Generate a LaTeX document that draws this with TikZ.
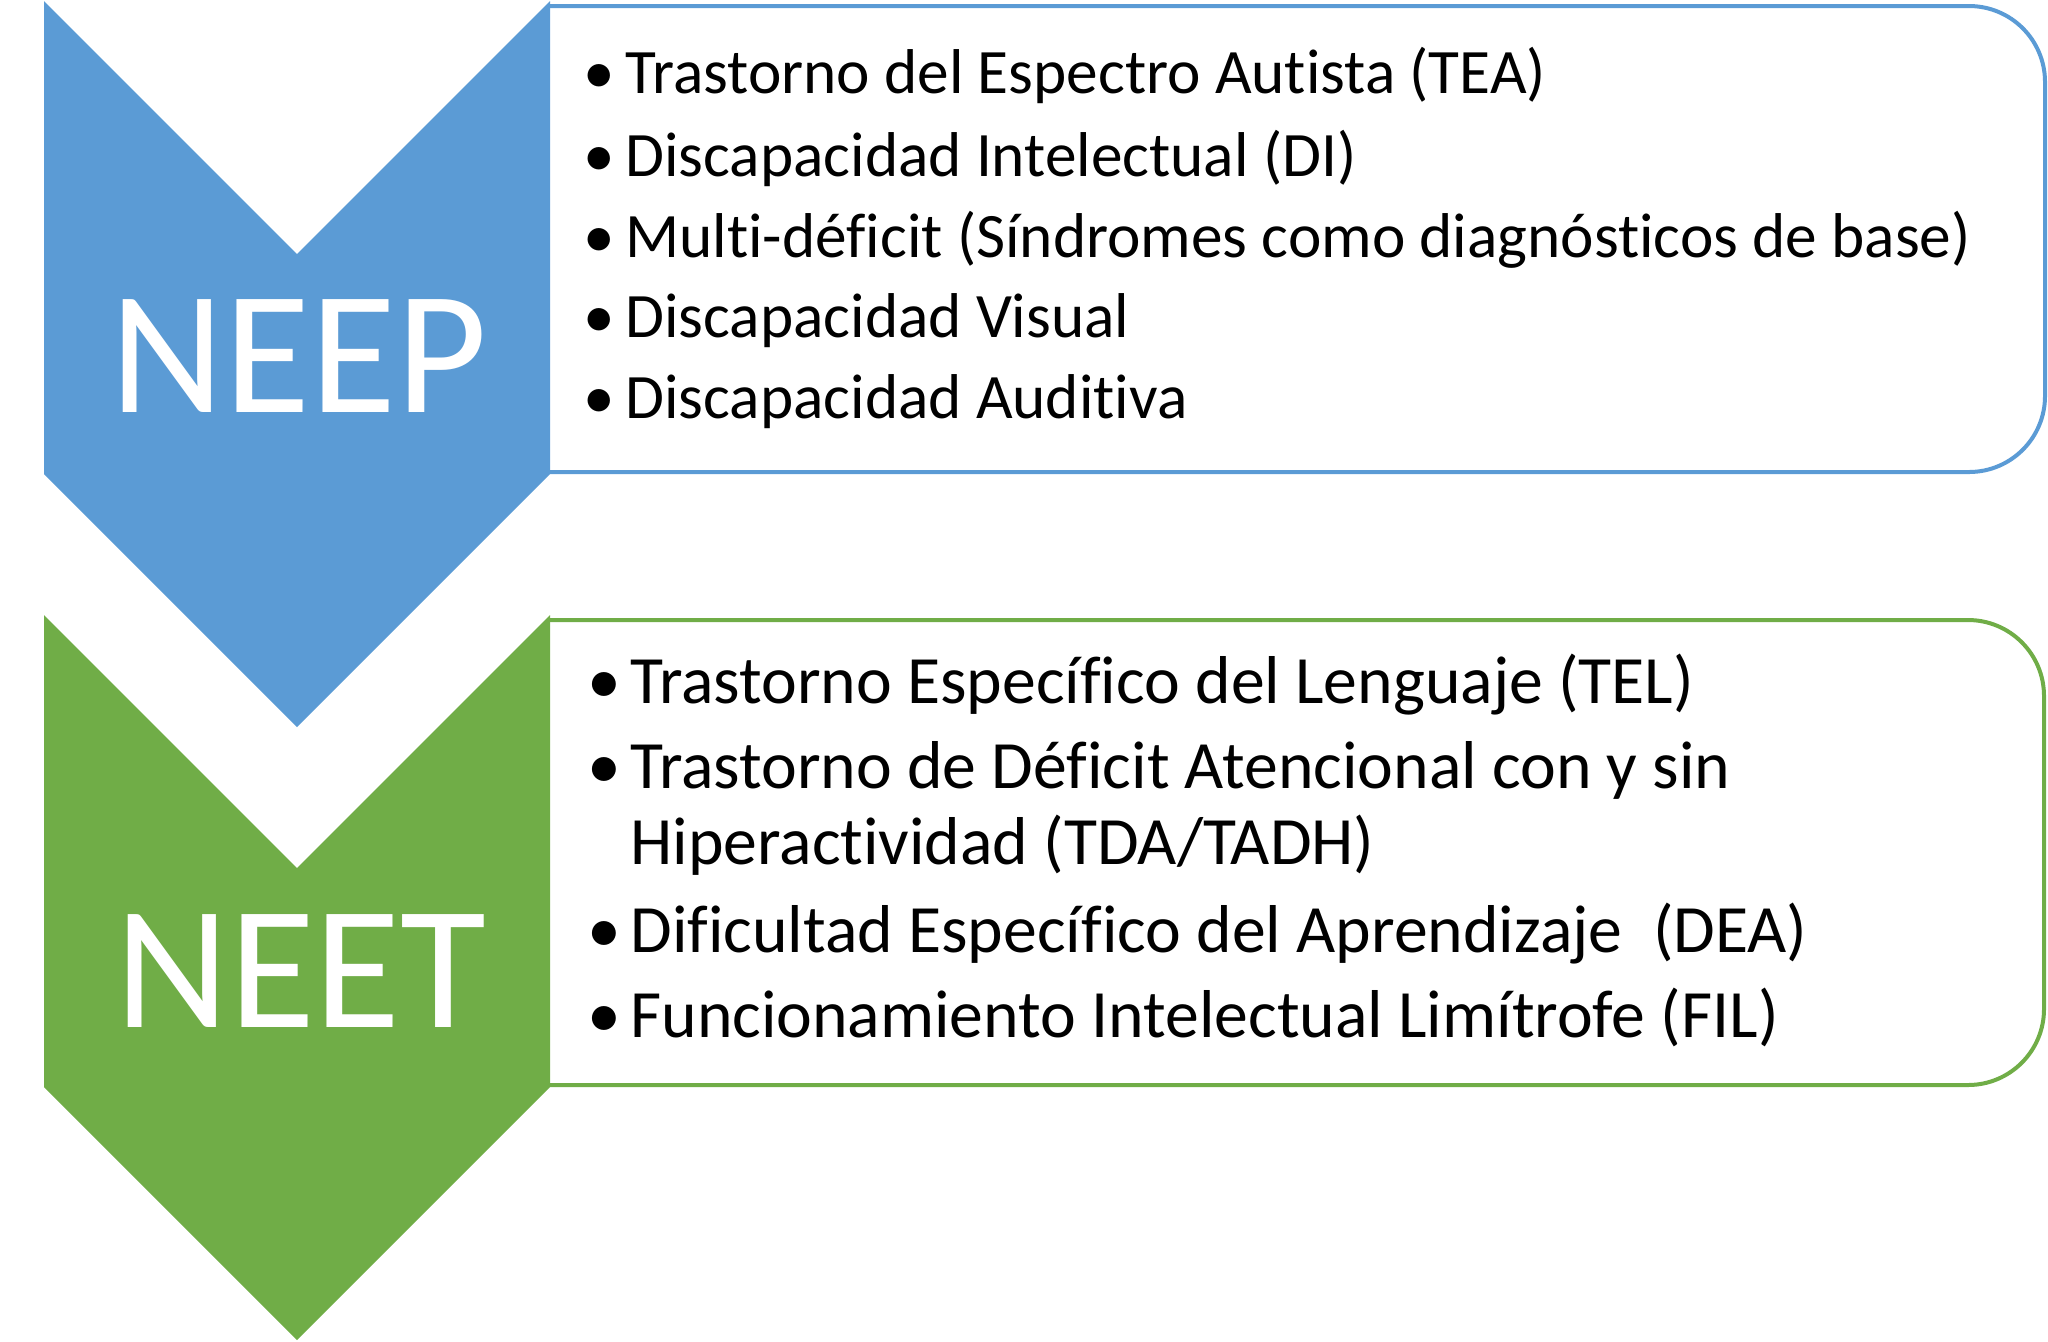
\documentclass[tikz,border=0pt]{standalone}
\usepackage{fontspec}
\setmainfont{Carlito}[Ligatures=NoCommon]
\definecolor{neepblue}{HTML}{5B9BD5}
\definecolor{neetgreen}{HTML}{70AD47}
\newcommand\bul{\llap{\makebox[26pt]{\textbullet}}}
\begin{document}
\begin{tikzpicture}[x=0.5pt, y=0.5pt,
  entry/.style={anchor=base west, inner sep=0pt, font=\fontsize{31.65}{38}\selectfont},
  bigentry/.style={entry, font=\fontsize{33.85}{40}\selectfont},
  bigtag/.style={anchor=base, inner sep=0pt, text=white, font=\fontsize{88}{100}\selectfont},
  boxline/.style={line width=2pt, rounded corners=38pt}]
  \useasboundingbox (0,0) rectangle (2048,-1341);
  % Chevrons
  \fill[neepblue] (44,-1) -- (297,-254) -- (550,-1) -- (550,-474) -- (297,-727) -- (44,-474) -- cycle;
  \fill[neetgreen] (44,-615) -- (297,-868) -- (550,-615) -- (550,-1087) -- (297,-1340) -- (44,-1087) -- cycle;
  % Boxes
  \draw[boxline, neepblue] (550,-6) -- (2045,-6) -- (2045,-472) -- (550,-472);
  \draw[boxline, neetgreen] (550,-620) -- (2044,-620) -- (2044,-1085) -- (550,-1085);
  % Headers
  \node (neep) [bigtag] at (299,-412) {NEEP};
  \node (neet) [bigtag] at (301,-1027) {NEET};
  % NEEP list
  \node (tea) [entry] at (625,-93) {\bul Trastorno del Espectro Autista (TEA)};
  \node (di) [entry] at (625,-176) {\bul Discapacidad Intelectual (DI)};
  \node (multi) [entry] at (625,-257) {\bul Multi-déficit (Síndromes como diagnósticos de base)};
  \node (visual) [entry] at (625,-337) {\bul Discapacidad Visual};
  \node (auditiva) [entry] at (625,-418) {\bul Discapacidad Auditiva};
  % NEET list
  \node (tel) [bigentry] at (630,-703) {\bul Trastorno Específico del Lenguaje (TEL)};
  \node (tda) [bigentry] at (630,-788) {\bul Trastorno de Déficit Atencional con y sin};
  \node (tdab) [bigentry] at (630,-864) {Hiperactividad (TDA/TADH)};
  \node (dea) [bigentry] at (630,-952) {\bul Dificultad Específico del Aprendizaje \ (DEA)};
  \node (fil) [bigentry] at (630,-1037) {\bul Funcionamiento Intelectual Limítrofe (FIL)};
\end{tikzpicture}
\end{document}
